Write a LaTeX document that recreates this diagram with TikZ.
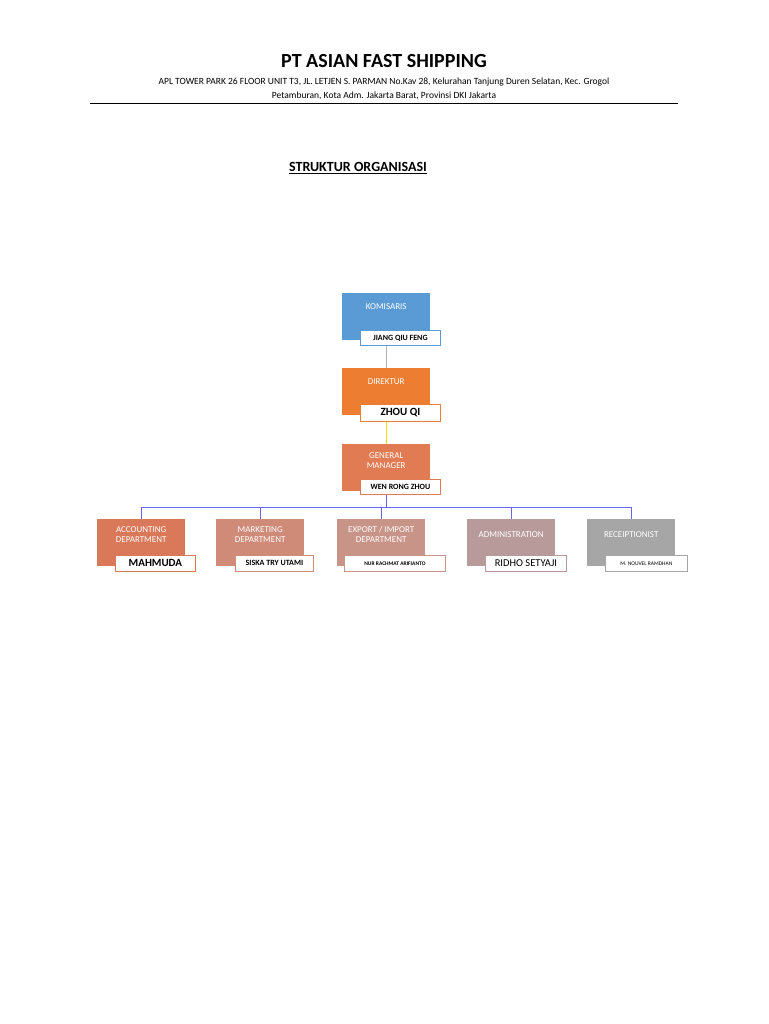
\documentclass[tikz,border=0pt]{standalone}
\usepackage{fontspec}
\setmainfont{Carlito}
\definecolor{ckom}{RGB}{91,155,213}
\definecolor{cdir}{RGB}{237,125,49}
\definecolor{cgm}{RGB}{224,123,83}
\definecolor{cacc}{RGB}{217,121,90}
\definecolor{cmkt}{RGB}{207,138,120}
\definecolor{cexp}{RGB}{201,148,136}
\definecolor{cadm}{RGB}{184,154,154}
\definecolor{crec}{RGB}{166,166,166}
\begin{document}
\begin{tikzpicture}[x=1pt,y=-1pt,
 box/.style={minimum width=88pt,minimum height=47pt,inner sep=1pt,text=white,font=\fontsize{9}{10.5}\selectfont,align=center,anchor=north west},
 namebox/.style={draw=#1,fill=white,line width=0.8pt,minimum height=15pt,inner sep=1pt,anchor=north west,font=\bfseries},
 conn/.style={draw=#1,line width=0.8pt}]
\useasboundingbox (0,0) rectangle (768,1024);
\node (title) at (384,61) {\fontsize{20}{24}\selectfont\bfseries PT ASIAN FAST SHIPPING};
\node (addr1) at (384,82) {\fontsize{9.5}{11}\selectfont APL TOWER PARK 26 FLOOR UNIT T3, JL. LETJEN S. PARMAN No.Kav 28, Kelurahan Tanjung Duren Selatan, Kec. Grogol};
\node (addr2) at (384,96) {\fontsize{9.5}{11}\selectfont Petamburan, Kota Adm. Jakarta Barat, Provinsi DKI Jakarta};
\draw[line width=0.8pt] (90,103) -- (678,103);
\node (struk) at (358,168) {\fontsize{14}{16}\selectfont\bfseries\underline{STRUKTUR ORGANISASI}};
% connectors
\coordinate (bus) at (386,507);
\draw[conn=gray!60] (386,340) -- (386,368);
\draw[conn=yellow!80!orange] (386,421) -- (386,444);
\draw[conn=blue!60] (386,495) -- (bus);
\draw[conn=blue!60] (141,519) -- (141,507) -- (631,507) -- (631,519);
\foreach \x in {260,381,511} \draw[conn=blue!60] (\x,507) -- (\x,519);
% top boxes
\node[box,fill=ckom] (kom) at (342,293) {KOMISARIS\\[10pt]};
\node[namebox=ckom,minimum width=80pt,font=\fontsize{8}{9}\selectfont\bfseries] (komn) at (360,330) {JIANG QIU FENG};
\node[box,fill=cdir] (dir) at (342,368) {DIREKTUR\\[10pt]};
\node[namebox=cdir,minimum width=80pt,minimum height=17pt,font=\fontsize{11}{12}\selectfont\bfseries] (dirn) at (360,404) {ZHOU QI};
\node[box,fill=cgm] (gm) at (342,444) {GENERAL\\MANAGER\\[4pt]};
\node[namebox=cgm,minimum width=80pt,font=\fontsize{8}{9}\selectfont\bfseries] (gmn) at (360,479) {WEN RONG ZHOU};
% bottom
\node[box,fill=cacc] (acc) at (97,519) {ACCOUNTING\\DEPARTMENT\\[6pt]};
\node[namebox=cacc,minimum width=80pt,minimum height=16pt,font=\fontsize{11}{12}\selectfont\bfseries] (accn) at (115,555) {MAHMUDA};
\node[box,fill=cmkt] (mkt) at (216,519) {MARKETING\\DEPARTMENT\\[6pt]};
\node[namebox=cmkt,minimum width=78pt,minimum height=16pt,font=\fontsize{8}{9}\selectfont\bfseries] (mktn) at (235,555) {SISKA TRY UTAMI};
\node[box,fill=cexp] (exp) at (337,519) {EXPORT / IMPORT\\DEPARTMENT\\[6pt]};
\node[namebox=cexp,minimum width=101pt,minimum height=16pt,font=\fontsize{5.5}{6}\selectfont\bfseries] (expn) at (344,555) {NUR RACHMAT ARIFIANTO};
\node[box,fill=cadm] (adm) at (467,519) {ADMINISTRATION\\[6pt]};
\node[namebox=cadm,minimum width=81pt,minimum height=16pt,font=\fontsize{10.5}{12}\selectfont] (admn) at (485,555) {RIDHO SETYAJI};
\node[box,fill=crec] (rec) at (587,519) {RECEIPTIONIST\\[6pt]};
\node[namebox=crec,minimum width=82pt,minimum height=16pt,font=\fontsize{5.5}{6}\selectfont] (recn) at (605,555) {M. NOUVEL RAMDHAN};
\end{tikzpicture}
\end{document}
